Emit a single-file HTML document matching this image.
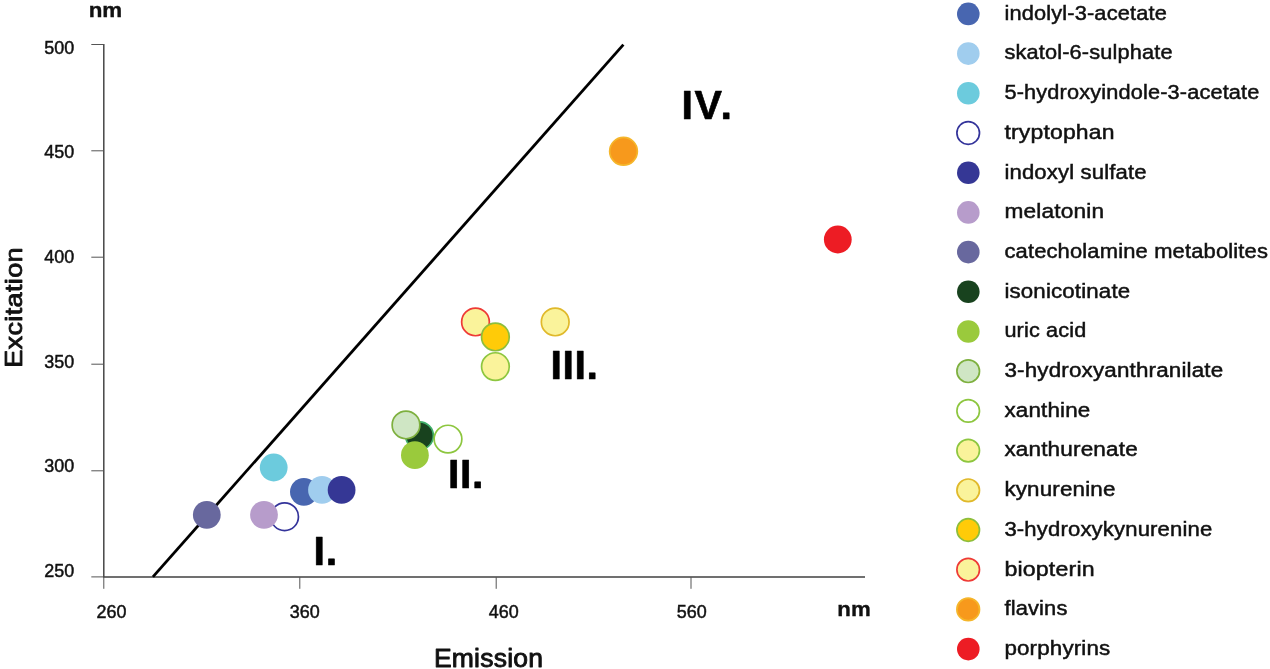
<!DOCTYPE html>
<html lang="en">
<head>
<meta charset="utf-8">
<title>Excitation / Emission map</title>
<style>
html,body{margin:0;padding:0;background:#fff;}
body{width:1270px;height:669px;overflow:hidden;}
svg{display:block;}
text{font-family:"Liberation Sans",sans-serif;fill:#111;}
.tick{font-size:19.2px;stroke:#111;stroke-width:0.5px;}
.unit{font-size:21px;font-weight:bold;stroke:#111;stroke-width:0.35px;}
.axis{font-size:25px;stroke:#111;stroke-width:0.85px;stroke-linejoin:round;}
.roman{font-size:41.2px;font-weight:bold;stroke:#000;stroke-width:0.7px;stroke-linejoin:round;fill:#000;}
.leg{font-size:21px;stroke:#111;stroke-width:0.5px;letter-spacing:0.15px;}
</style>
</head>
<body>
<svg width="1270" height="669" viewBox="0 0 1270 669">
<rect width="1270" height="669" fill="#fff"/>

<g stroke="#404040" stroke-width="1.45" fill="none">
<path d="M103.8 44V577"/>
<path d="M103 576.9H865"/>
</g>
<g stroke="#555" stroke-width="1" fill="none">
<path d="M91.3 44.5H103.8"/>
<path d="M91.3 150.8H103.8"/>
<path d="M91.3 257.2H103.8"/>
<path d="M91.3 364.2H103.8"/>
<path d="M91.3 470.8H103.8"/>
<path d="M91.3 576.9H103.8"/>
<path d="M103.8 577V588.8"/>
<path d="M299.8 577V588.8"/>
<path d="M496.2 577V588.8"/>
<path d="M691 577V588.8"/>
</g>
<text class="tick" transform="translate(44.2 53.8) scale(0.935 1)">500</text>
<text class="tick" transform="translate(44.2 158.4) scale(0.935 1)">450</text>
<text class="tick" transform="translate(44.2 263.0) scale(0.935 1)">400</text>
<text class="tick" transform="translate(44.2 367.6) scale(0.935 1)">350</text>
<text class="tick" transform="translate(44.2 472.2) scale(0.935 1)">300</text>
<text class="tick" transform="translate(44.2 576.8) scale(0.935 1)">250</text>
<text class="tick" transform="translate(96.6 618.4) scale(0.935 1)">260</text>
<text class="tick" transform="translate(289.7 618.4) scale(0.935 1)">360</text>
<text class="tick" transform="translate(488.7 618.4) scale(0.935 1)">460</text>
<text class="tick" transform="translate(676.8 618.4) scale(0.935 1)">560</text>
<text class="unit" transform="translate(88.7 16.7) scale(1.065 1)">nm</text>
<text class="unit" transform="translate(837.3 616) scale(1.06 1)">nm</text>
<text class="axis" transform="translate(433.9 666.5) scale(1.061 1)" letter-spacing="0.2">Emission</text>
<text class="axis" style="font-size:24px" transform="translate(21.5 367.8) rotate(-90) scale(1.128 1)" letter-spacing="0.3">Excitation</text>
<path d="M152.9 576.9L623.4 44.6" stroke="#000" stroke-width="2.8" fill="none"/>
<circle cx="206.8" cy="514.8" r="13.9" fill="#68689E"/>
<circle cx="273.7" cy="467.5" r="13.9" fill="#6CCBDD"/>
<circle cx="284.6" cy="516.7" r="13.85" fill="#FFFFFF" stroke="#33339A" stroke-width="1.7"/>
<circle cx="264.0" cy="514.8" r="13.9" fill="#B79CCB"/>
<circle cx="303.9" cy="491.8" r="13.9" fill="#4866B0"/>
<circle cx="322.0" cy="489.9" r="13.9" fill="#A0CDEE"/>
<circle cx="341.6" cy="489.9" r="13.9" fill="#353795"/>
<circle cx="419.5" cy="435.7" r="13.85" fill="#18421E" stroke="#3FAE6A" stroke-width="1.7"/>
<circle cx="406.0" cy="424.9" r="13.85" fill="#CFE6C4" stroke="#7EB03F" stroke-width="1.7"/>
<circle cx="414.9" cy="455.2" r="13.9" fill="#9ACA3C"/>
<circle cx="448.0" cy="439.1" r="13.85" fill="#FFFFFF" stroke="#8DC63F" stroke-width="1.7"/>
<circle cx="475.5" cy="321.9" r="13.85" fill="#FAF39B" stroke="#EE3A36" stroke-width="1.7"/>
<circle cx="495.4" cy="366.6" r="13.85" fill="#FAF39B" stroke="#8DC63F" stroke-width="1.7"/>
<circle cx="495.4" cy="336.9" r="13.85" fill="#FFCB08" stroke="#8DBE3C" stroke-width="1.7"/>
<circle cx="555.2" cy="321.9" r="13.85" fill="#FAF39B" stroke="#E0B92B" stroke-width="1.7"/>
<circle cx="623.5" cy="151.3" r="13.85" fill="#F7991C" stroke="#F5B62B" stroke-width="1.7"/>
<circle cx="837.8" cy="239.5" r="13.9" fill="#ED1C24"/>
<text class="roman" x="313.5" y="565.2" letter-spacing="0.7">I.</text>
<text class="roman" x="448.0" y="488.1" letter-spacing="0.55">II.</text>
<text class="roman" x="550.5" y="379.3" letter-spacing="0.55">III.</text>
<text class="roman" x="681.5" y="119.2">I<tspan dx="1.6">V</tspan><tspan dx="2.2">.</tspan></text>
<circle cx="968.3" cy="13.9" r="11.3" fill="#4866B0"/>
<text class="leg" transform="translate(1004.4 19.7) scale(1.0385 1)">indolyl-3-acetate</text>
<circle cx="968.3" cy="53.6" r="11.3" fill="#A0CDEE"/>
<text class="leg" transform="translate(1004.4 59.4) scale(1.0362 1)">skatol-6-sulphate</text>
<circle cx="968.3" cy="93.3" r="11.3" fill="#6CCBDD"/>
<text class="leg" transform="translate(1004.4 99.1) scale(1.0356 1)">5-hydroxyindole-3-acetate</text>
<circle cx="968.2" cy="133.0" r="11.3" fill="#FFFFFF" stroke="#33339A" stroke-width="1.7"/>
<text class="leg" transform="translate(1004.4 138.8) scale(1.0950 1)">tryptophan</text>
<circle cx="968.3" cy="172.7" r="11.3" fill="#353795"/>
<text class="leg" transform="translate(1004.4 178.5) scale(1.0531 1)">indoxyl sulfate</text>
<circle cx="968.3" cy="212.4" r="11.3" fill="#B79CCB"/>
<text class="leg" transform="translate(1004.4 218.2) scale(1.0806 1)">melatonin</text>
<circle cx="968.3" cy="252.1" r="11.3" fill="#68689E"/>
<text class="leg" transform="translate(1004.4 257.9) scale(1.0454 1)">catecholamine metabolites</text>
<circle cx="968.3" cy="291.8" r="11.3" fill="#18421E"/>
<text class="leg" transform="translate(1004.4 297.6) scale(1.0615 1)">isonicotinate</text>
<circle cx="968.3" cy="331.5" r="11.3" fill="#9ACA3C"/>
<text class="leg" transform="translate(1004.4 337.3) scale(1.0308 1)">uric acid</text>
<circle cx="968.2" cy="371.2" r="11.3" fill="#CFE6C4" stroke="#7EB03F" stroke-width="1.7"/>
<text class="leg" transform="translate(1004.4 377.0) scale(1.0676 1)">3-hydroxyanthranilate</text>
<circle cx="968.2" cy="410.9" r="11.3" fill="#FFFFFF" stroke="#8DC63F" stroke-width="1.7"/>
<text class="leg" transform="translate(1004.4 416.7) scale(1.0677 1)">xanthine</text>
<circle cx="968.2" cy="450.6" r="11.3" fill="#FAF39B" stroke="#8DC63F" stroke-width="1.7"/>
<text class="leg" transform="translate(1004.4 456.4) scale(1.0738 1)">xanthurenate</text>
<circle cx="968.2" cy="490.3" r="11.3" fill="#FAF39B" stroke="#E0B92B" stroke-width="1.7"/>
<text class="leg" transform="translate(1004.4 496.1) scale(1.0667 1)">kynurenine</text>
<circle cx="968.2" cy="530.0" r="11.3" fill="#FFCB08" stroke="#8DBE3C" stroke-width="1.7"/>
<text class="leg" transform="translate(1004.4 535.8) scale(1.0525 1)">3-hydroxykynurenine</text>
<circle cx="968.2" cy="569.7" r="11.3" fill="#FAF39B" stroke="#EE3A36" stroke-width="1.7"/>
<text class="leg" transform="translate(1004.4 575.5) scale(1.1034 1)">biopterin</text>
<circle cx="968.2" cy="609.4" r="11.3" fill="#F7991C" stroke="#F5B62B" stroke-width="1.7"/>
<text class="leg" transform="translate(1004.4 615.2) scale(1.0433 1)">flavins</text>
<circle cx="968.3" cy="649.1" r="11.3" fill="#ED1C24"/>
<text class="leg" transform="translate(1004.4 654.9) scale(1.0662 1)">porphyrins</text>
</svg>
</body>
</html>
